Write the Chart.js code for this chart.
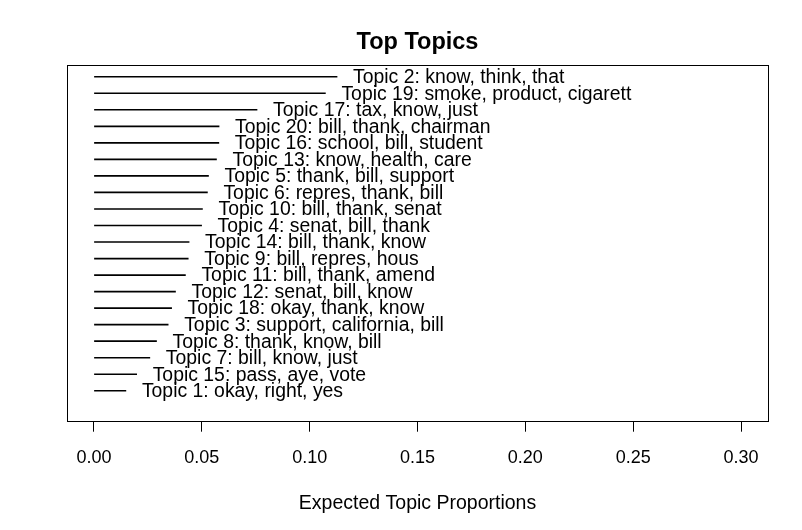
<!DOCTYPE html>
<html>
<head>
<meta charset="utf-8">
<script src="https://cdn.jsdelivr.net/npm/chart.js@4.4.1/dist/chart.umd.min.js"></script>
<style>
  html, body { margin: 0; padding: 0; background: #fff; }
  canvas { display: block; }
</style>
</head>
<body>
<canvas id="c" width="802" height="530"></canvas>
<script>
// Topics listed from top to bottom of the plot
const topicLabels = [
  "Topic 2: know, think, that",
  "Topic 19: smoke, product, cigarett",
  "Topic 17: tax, know, just",
  "Topic 20: bill, thank, chairman",
  "Topic 16: school, bill, student",
  "Topic 13: know, health, care",
  "Topic 5: thank, bill, support",
  "Topic 6: repres, thank, bill",
  "Topic 10: bill, thank, senat",
  "Topic 4: senat, bill, thank",
  "Topic 14: bill, thank, know",
  "Topic 9: bill, repres, hous",
  "Topic 11: bill, thank, amend",
  "Topic 12: senat, bill, know",
  "Topic 18: okay, thank, know",
  "Topic 3: support, california, bill",
  "Topic 8: thank, know, bill",
  "Topic 7: bill, know, just",
  "Topic 15: pass, aye, vote",
  "Topic 1: okay, right, yes"
];
// Expected topic proportions, same order
const proportions = [
  0.1127, 0.1073, 0.0756, 0.0580, 0.0579, 0.0568, 0.0531, 0.0526, 0.0503,
  0.0499, 0.0441, 0.0437, 0.0424, 0.0378, 0.0360, 0.0344, 0.0290, 0.0259,
  0.0198, 0.0148
];
const tickValues = [0, 0.05, 0.10, 0.15, 0.20, 0.25, 0.30];
const chartTitle = "Top Topics";
const xAxisTitle = "Expected Topic Proportions";

const n = topicLabels.length;
const points = proportions.map((v, i) => ({ x: v, y: n - 1 - i }));

const FONT = "'Liberation Sans', Arial, Helvetica, sans-serif";

const boxPlugin = {
  id: 'boxPlugin',
  afterDraw(chart) {
    const { ctx, chartArea: a } = chart;
    ctx.save();
    ctx.strokeStyle = '#000';
    ctx.lineWidth = 1;
    ctx.strokeRect(Math.round(a.left) + 0.5, Math.round(a.top) + 0.5,
                   Math.round(a.right - a.left), Math.round(a.bottom - a.top));
    ctx.restore();
  }
};

const labelPlugin = {
  id: 'labelPlugin',
  afterDatasetsDraw(chart) {
    const { ctx } = chart;
    const meta = chart.getDatasetMeta(0);
    ctx.save();
    ctx.fillStyle = '#000';
    ctx.font = "19.4px " + FONT;
    ctx.textAlign = 'left';
    ctx.textBaseline = 'middle';
    meta.data.forEach((bar, i) => {
      ctx.fillText(topicLabels[i], bar.x + 16, bar.y + 1);
    });
    ctx.restore();
  }
};

new Chart(document.getElementById('c'), {
  type: 'bar',
  data: {
    datasets: [{
      data: points,
      backgroundColor: '#000',
      borderWidth: 0,
      barThickness: 1
    }]
  },
  options: {
    indexAxis: 'y',
    responsive: false,
    animation: false,
    devicePixelRatio: 1,
    layout: { padding: { left: 67, right: 34, top: 0, bottom: 0 } },
    plugins: {
      legend: { display: false },
      tooltip: { enabled: false },
      title: {
        display: true,
        text: chartTitle,
        fullSize: false,
        color: '#000',
        font: { family: FONT, size: 23.5, weight: 'bold' },
        padding: { top: 28, bottom: 8.8 }
      }
    },
    scales: {
      y: {
        type: 'linear',
        display: false,
        offset: false,
        min: -1.81,
        max: 19.71
      },
      x: {
        type: 'linear',
        min: -0.0125,
        max: 0.3125,
        afterBuildTicks(scale) {
          scale.ticks = tickValues.map(v => ({ value: v }));
        },
        border: { display: false },
        grid: {
          display: true,
          drawOnChartArea: false,
          drawTicks: true,
          tickLength: 11,
          color: '#000',
          lineWidth: 1
        },
        ticks: {
          color: '#000',
          font: { family: FONT, size: 18 },
          padding: 16,
          maxRotation: 0,
          autoSkip: false,
          callback: (v) => Number(v).toFixed(2)
        },
        title: {
          display: true,
          text: xAxisTitle,
          color: '#000',
          font: { family: FONT, size: 19.5 },
          padding: { top: 7, bottom: 14.3 }
        }
      }
    }
  },
  plugins: [boxPlugin, labelPlugin]
});
</script>
</body>
</html>
